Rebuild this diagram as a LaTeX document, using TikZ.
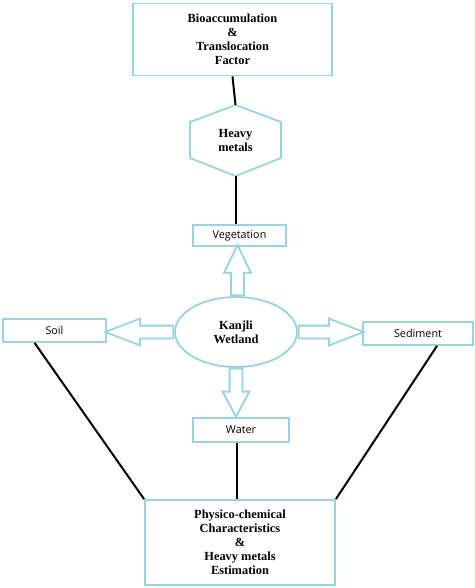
\documentclass[tikz,border=0pt]{standalone}
\usepackage{fontspec}
\setmainfont{Liberation Serif}
\newfontfamily\labelfont{Open Sans}
\usetikzlibrary{shapes.geometric,shapes.arrows,calc}
\definecolor{boxblue}{RGB}{152,212,224}

\begin{document}
\begin{tikzpicture}[x=1pt,y=-1pt,
    bluebox/.style={draw=boxblue, line width=1.8pt},
    bigbox/.style={bluebox, rectangle, inner sep=0pt, align=center,
        font=\fontsize{12.4}{14}\selectfont\bfseries},
    smallbox/.style={bluebox, rectangle, inner sep=0pt,
        font=\fontsize{10.8}{12}\selectfont\labelfont},
    hollowarrow/.style={bluebox, single arrow, fill=white, inner xsep=0pt, inner ysep=5.5pt,
        single arrow head extend=7pt, single arrow tip angle=52, anchor=tail},
    link/.style={draw=black, line width=2pt}]
    \useasboundingbox (0,0) rectangle (474,588);
    % boxes
    \node[bigbox, minimum width=199pt, minimum height=72pt] (factor) at (232.5,39.5)
        {Bioaccumulation\\\&\\Translocation\\Factor};
    \node[font=\fontsize{12.4}{14}\selectfont\bfseries, align=center] (metals) at (235.5,140.5) {Heavy\\metals};
    \draw[bluebox] (235.5,105) -- (281,122) -- (281,158) -- (235.5,176)
        -- (190,158) -- (190,122) -- cycle;
    \coordinate (metals top) at (235.5,105);
    \coordinate (metals bottom) at (235.5,176);
    \node[smallbox, minimum width=93pt, minimum height=21pt] (veg) at (239.5,235.5) {Vegetation};
    \node[bluebox, ellipse, minimum width=122pt, minimum height=70pt, inner sep=0pt,
        align=center, font=\fontsize{12.4}{14}\selectfont\bfseries] (wetland) at (236,332) {Kanjli\\Wetland};
    \node[smallbox, minimum width=103pt, minimum height=23pt] (soil) at (54.5,330.5) {Soil};
    \node[smallbox, minimum width=110pt, minimum height=23pt] (sediment) at (418,333.5) {Sediment};
    \node[smallbox, minimum width=96pt, minimum height=24pt] (water) at (241,430) {Water};
    \node[bigbox, minimum width=190pt, minimum height=85pt] (estim) at (240,542.5)
        {Physico-chemical\\Characteristics\\\&\\Heavy metals\\Estimation};
    % hollow arrows out of the wetland
    \node[hollowarrow, minimum height=50pt, rotate=90] at ([xshift=1.5pt]wetland.north) {};
    \node[hollowarrow, minimum height=68pt, rotate=180, single arrow tip angle=42] at (wetland.west) {};
    \node[hollowarrow, minimum height=65pt, single arrow tip angle=42] at (wetland.east) {};
    \node[hollowarrow, minimum height=48pt, rotate=-90, single arrow tip angle=56] at (wetland.south) {};
    % black links
    \draw[link] (factor.south) -- (metals top);
    \draw[link] (metals bottom) -- (metals bottom |- veg.north);
    \draw[link] ($(soil.south west)!.31!(soil.south east)$) -- (estim.north west);
    \draw[link] ($(sediment.south west)!.67!(sediment.south east)$) -- (estim.north east);
    \draw[link] ([xshift=-4pt]water.south) -- ([xshift=-4pt]water.south |- estim.north);
\end{tikzpicture}
\end{document}
